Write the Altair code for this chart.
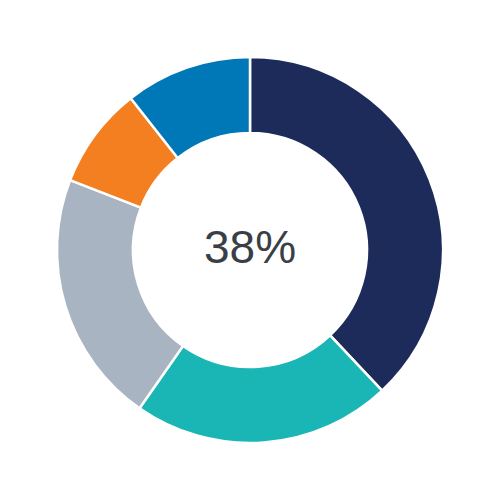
import pandas as pd
import altair as alt

segments = ["Navy", "Teal", "Gray", "Orange", "Blue"]
shares = [38.0, 21.7, 21.2, 8.5, 10.6]
colors = ["#1c2b5a", "#1ab5b5", "#a9b4c2", "#f47f20", "#0077b6"]
center_label = ["38%"]

df = pd.DataFrame({"segment": segments, "share": shares, "rank": range(len(segments))})

donut = (
    alt.Chart(df)
    .mark_arc(outerRadius=193, innerRadius=117, stroke="white", strokeWidth=2.5)
    .encode(
        alt.Theta("share:Q", stack=True),
        alt.Color(
            "segment:N",
            scale=alt.Scale(domain=segments, range=colors),
            legend=None,
        ),
        alt.Order("rank:Q"),
    )
)

label = (
    alt.Chart(pd.DataFrame({"text": center_label}))
    .mark_text(font="Liberation Sans", fontSize=46, color="#3a3f47", baseline="alphabetic", dy=13)
    .encode(text="text:N")
)

chart = (
    alt.layer(donut, label)
    .properties(width=484, height=484, padding=0)
    .configure_view(stroke=None)
)

chart.save("out.html", embed_options={"renderer": "svg", "actions": False})
